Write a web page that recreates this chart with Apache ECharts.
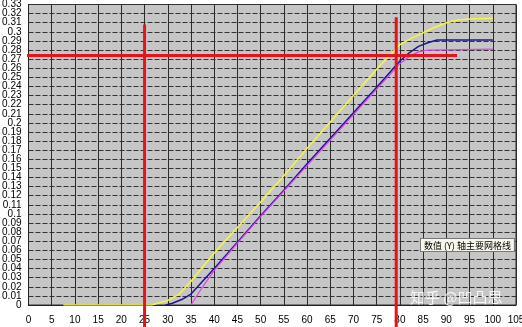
<!DOCTYPE html>
<html>
<head>
<meta charset="utf-8">
<script src="https://cdn.jsdelivr.net/npm/echarts@6/dist/echarts.min.js"></script>
<style>html,body{margin:0;padding:0;background:#fff;}#c{width:522px;height:327px;}</style>
</head>
<body>
<div id="c"></div>
<script>
// Data
var yellowX = [7.5, 26.5, 30, 32.5, 35, 40, 45, 50, 55, 60, 65, 70, 75, 80, 82.5, 85, 87.5, 90, 92.5, 95, 100];
var yellowY = [0, 0, 0.005, 0.012, 0.026, 0.057, 0.085, 0.113, 0.142, 0.172, 0.201, 0.23, 0.259, 0.286, 0.293, 0.299, 0.305, 0.31, 0.313, 0.314, 0.315];
var navyX = [29.5, 31, 33, 35, 40, 45, 50, 55, 60, 65, 70, 75, 80, 82, 84, 86, 88, 90, 100];
var navyY = [0, 0.002, 0.006, 0.012, 0.04, 0.069, 0.098, 0.126, 0.155, 0.183, 0.211, 0.239, 0.268, 0.277, 0.284, 0.288, 0.291, 0.291, 0.291];
var magentaX = [35, 37.5, 40, 45, 50, 55, 60, 65, 70, 75, 80, 82, 84, 86, 100];
var magentaY = [0, 0.02, 0.038, 0.068, 0.097, 0.125, 0.153, 0.181, 0.209, 0.237, 0.265, 0.273, 0.278, 0.28, 0.281];
// red reference lines (x, y pairs)
var refVert1X = [25, 25];
var refVert1Y = [0.308, -0.03];
var refVert2X = [79.2, 79.2];
var refVert2Y = [0.316, -0.03];
var refHorzX = [-6.3, 92.3];
var refHorzY = [0.274, 0.274];
var tooltipText = '数值 (Y) 轴主要网格线';
var watermark = '知乎 @凹凸思';

function pairs(xs, ys) { return xs.map(function (x, i) { return [x, ys[i]]; }); }

var chart = echarts.init(document.getElementById('c'));
var font = 'Liberation Sans';
function fmt(v) { return String(Math.round(v * 100) / 100); }
function redLine(xs, ys) {
  return { type: 'line', data: pairs(xs, ys), symbol: 'none', clip: false, silent: true, z: 5,
    lineStyle: { color: '#e8121a', width: 3 } };
}
chart.setOption({
  animation: false,
  backgroundColor: '#ffffff',
  grid: { left: 28.5, right: 6, top: 4.5, bottom: 22, outerBoundsMode: 'none', containLabel: false,
    show: true, backgroundColor: '#c6c6c6', borderColor: '#303030', borderWidth: 1 },
  xAxis: {
    type: 'value', min: 0, max: 105, interval: 5,
    axisLine: { show: true, onZero: false, lineStyle: { color: '#222' } },
    axisTick: { show: false },
    axisLabel: { color: '#000', fontFamily: font, fontSize: 10, margin: 10, showMinLabel: true, showMaxLabel: true, hideOverlap: false },
    splitLine: { show: true, lineStyle: { color: '#2c2c2c', width: 1 } }
  },
  yAxis: [{
    type: 'value', min: 0, max: 0.33, interval: 0.01, position: 'left',
    axisLine: { show: true, lineStyle: { color: '#222' } },
    axisTick: { show: false },
    axisLabel: { color: '#000', fontFamily: font, fontSize: 10, margin: 7, showMinLabel: true, showMaxLabel: true, hideOverlap: false,
      formatter: fmt },
    splitLine: { show: true, lineStyle: { color: '#333', width: 1, type: [5, 2] } }
  }, {
    type: 'value', min: 0, max: 0.33, interval: 0.01, position: 'left', offset: 0,
    axisLine: { show: false }, axisTick: { show: false }, splitLine: { show: false },
    axisLabel: { color: '#000', fontFamily: font, fontSize: 10, margin: 7, showMinLabel: false, showMaxLabel: false, hideOverlap: false,
      formatter: function (v) { var s = fmt(v); return (s === '0.01' || s === '0.32') ? s : ''; } }
  }],
  series: [
    { type: 'line', data: pairs(yellowX, yellowY), symbol: 'none', lineStyle: { color: '#f6f640', width: 1.5 }, z: 3 },
    { type: 'line', data: pairs(navyX, navyY), symbol: 'none', lineStyle: { color: '#1c1490', width: 1.5 }, z: 3 },
    { type: 'line', data: pairs(magentaX, magentaY), symbol: 'none', lineStyle: { color: '#e040f0', width: 1.2 }, z: 4 },
    redLine(refVert1X, refVert1Y),
    redLine(refVert2X, refVert2Y),
    redLine(refHorzX, refHorzY)
  ],
  graphic: [
    { type: 'text', left: 420, top: 238, z: 10,
      style: { text: tooltipText, font: '9px "Noto Sans CJK SC"', fill: '#000',
        backgroundColor: '#f6f6ea', borderColor: '#777', borderWidth: 1, padding: [2, 3, 1, 3] } },
    { type: 'text', left: 410, top: 290, z: 10,
      style: { text: watermark, font: '15px "Noto Sans CJK SC"', fill: 'rgba(255,255,255,0.85)' } }
  ]
});
</script>
</body>
</html>
